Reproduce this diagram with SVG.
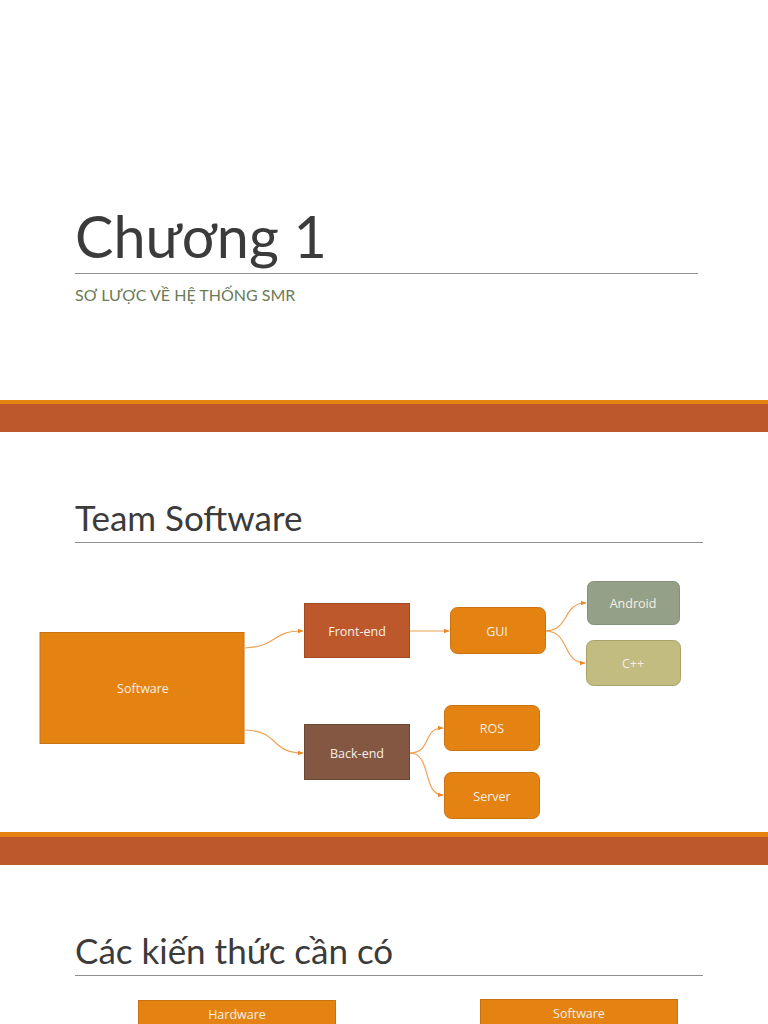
<svg xmlns="http://www.w3.org/2000/svg" width="768" height="1024" viewBox="0 0 768 1024">
<defs>
<style>
.title{font-family:Lato,"Open Sans","Liberation Sans",sans-serif;fill:#3b3b3b}
.sub{font-family:Lato,"Open Sans","Liberation Sans",sans-serif;fill:#6b7a55;font-size:16px}
.lbl{font-family:"Open Sans",Lato,"Liberation Sans",sans-serif;fill:#f7efe6;font-size:12.5px;text-anchor:middle;dominant-baseline:central}
.rule{stroke:#8f8f8f;stroke-width:1}
.con{fill:none;stroke:#f0a050;stroke-width:1.2;marker-end:url(#ah)}
</style>
<marker id="ah" viewBox="0 0 10 10" refX="9" refY="5" markerWidth="6" markerHeight="6" orient="auto" markerUnits="userSpaceOnUse">
<path d="M0,1 L10,5 L0,9 Z" fill="#e8892a"/>
</marker>
</defs>
<rect width="768" height="1024" fill="#ffffff"/>

<!-- Slide 1 -->
<text class="title" x="75" y="258" font-size="57.5">Chương 1</text>
<line class="rule" x1="75" y1="273.5" x2="698" y2="273.5"/>
<text class="sub" x="75" y="301">SƠ LƯỢC VỀ HỆ THỐNG SMR</text>

<!-- band 1 -->
<rect x="0" y="400" width="768" height="4" fill="#e48312"/>
<rect x="0" y="404" width="768" height="28" fill="#bd582c"/>

<!-- Slide 2 -->
<text class="title" x="75" y="531" font-size="35">Team Software</text>
<line class="rule" x1="75" y1="542.5" x2="703" y2="542.5"/>

<g id="connectors">
<path class="con" d="M245,648 C280,646 270,631 303,631"/>
<path class="con" d="M245,730 C280,731 270,753 303,753"/>
<path class="con" d="M410,631 L449,631"/>
<path class="con" d="M545,631 C570,631 562,603 586,603"/>
<path class="con" d="M545,631 C570,631 562,663 585,663"/>
<path class="con" d="M410,753 C432,753 422,728 443,728"/>
<path class="con" d="M410,753 C432,753 422,795 443,795"/>
</g>

<g id="software">
<rect x="40" y="632.5" width="204" height="111" fill="#e48312" stroke="#c97214" stroke-width="1"/>
<text class="lbl" x="143" y="688">Software</text>
</g>
<g id="frontend">
<rect x="304.5" y="603.5" width="105" height="54" fill="#bd582c" stroke="#a34a23" stroke-width="1"/>
<text class="lbl" x="357" y="631">Front-end</text>
</g>
<g id="backend">
<rect x="304.5" y="724.5" width="105" height="55" fill="#845742" stroke="#6e4635" stroke-width="1"/>
<text class="lbl" x="357" y="753">Back-end</text>
</g>
<g id="gui">
<rect x="450.5" y="607.5" width="95" height="46" rx="7" fill="#e48312" stroke="#c97214" stroke-width="1"/>
<text class="lbl" x="497" y="631">GUI</text>
</g>
<g id="android">
<rect x="587.5" y="581.5" width="92" height="43" rx="6" fill="#94a088" stroke="#849078" stroke-width="1"/>
<text class="lbl" x="633" y="603">Android</text>
</g>
<g id="cpp">
<rect x="586.5" y="640.5" width="94" height="45" rx="7" fill="#c2bc80" stroke="#a8a26a" stroke-width="1"/>
<text class="lbl" x="633" y="663">C++</text>
</g>
<g id="ros">
<rect x="444.5" y="705.5" width="95" height="45" rx="7" fill="#e48312" stroke="#c97214" stroke-width="1"/>
<text class="lbl" x="492" y="728">ROS</text>
</g>
<g id="server">
<rect x="444.5" y="772.5" width="95" height="46" rx="7" fill="#e48312" stroke="#c97214" stroke-width="1"/>
<text class="lbl" x="492" y="796">Server</text>
</g>

<!-- band 2 -->
<rect x="0" y="832" width="768" height="5" fill="#e48312"/>
<rect x="0" y="837" width="768" height="28" fill="#bd582c"/>

<!-- Slide 3 -->
<text class="title" x="75" y="964" font-size="35">Các kiến thức cần có</text>
<line class="rule" x1="75" y1="975.5" x2="703" y2="975.5"/>
<g id="hardware">
<rect x="138.5" y="1000.5" width="197" height="30" fill="#e48312" stroke="#c97214" stroke-width="1"/>
<text class="lbl" x="237" y="1014">Hardware</text>
</g>
<g id="software2">
<rect x="480.5" y="999.5" width="197" height="30" fill="#e48312" stroke="#c97214" stroke-width="1"/>
<text class="lbl" x="579" y="1013">Software</text>
</g>
</svg>
